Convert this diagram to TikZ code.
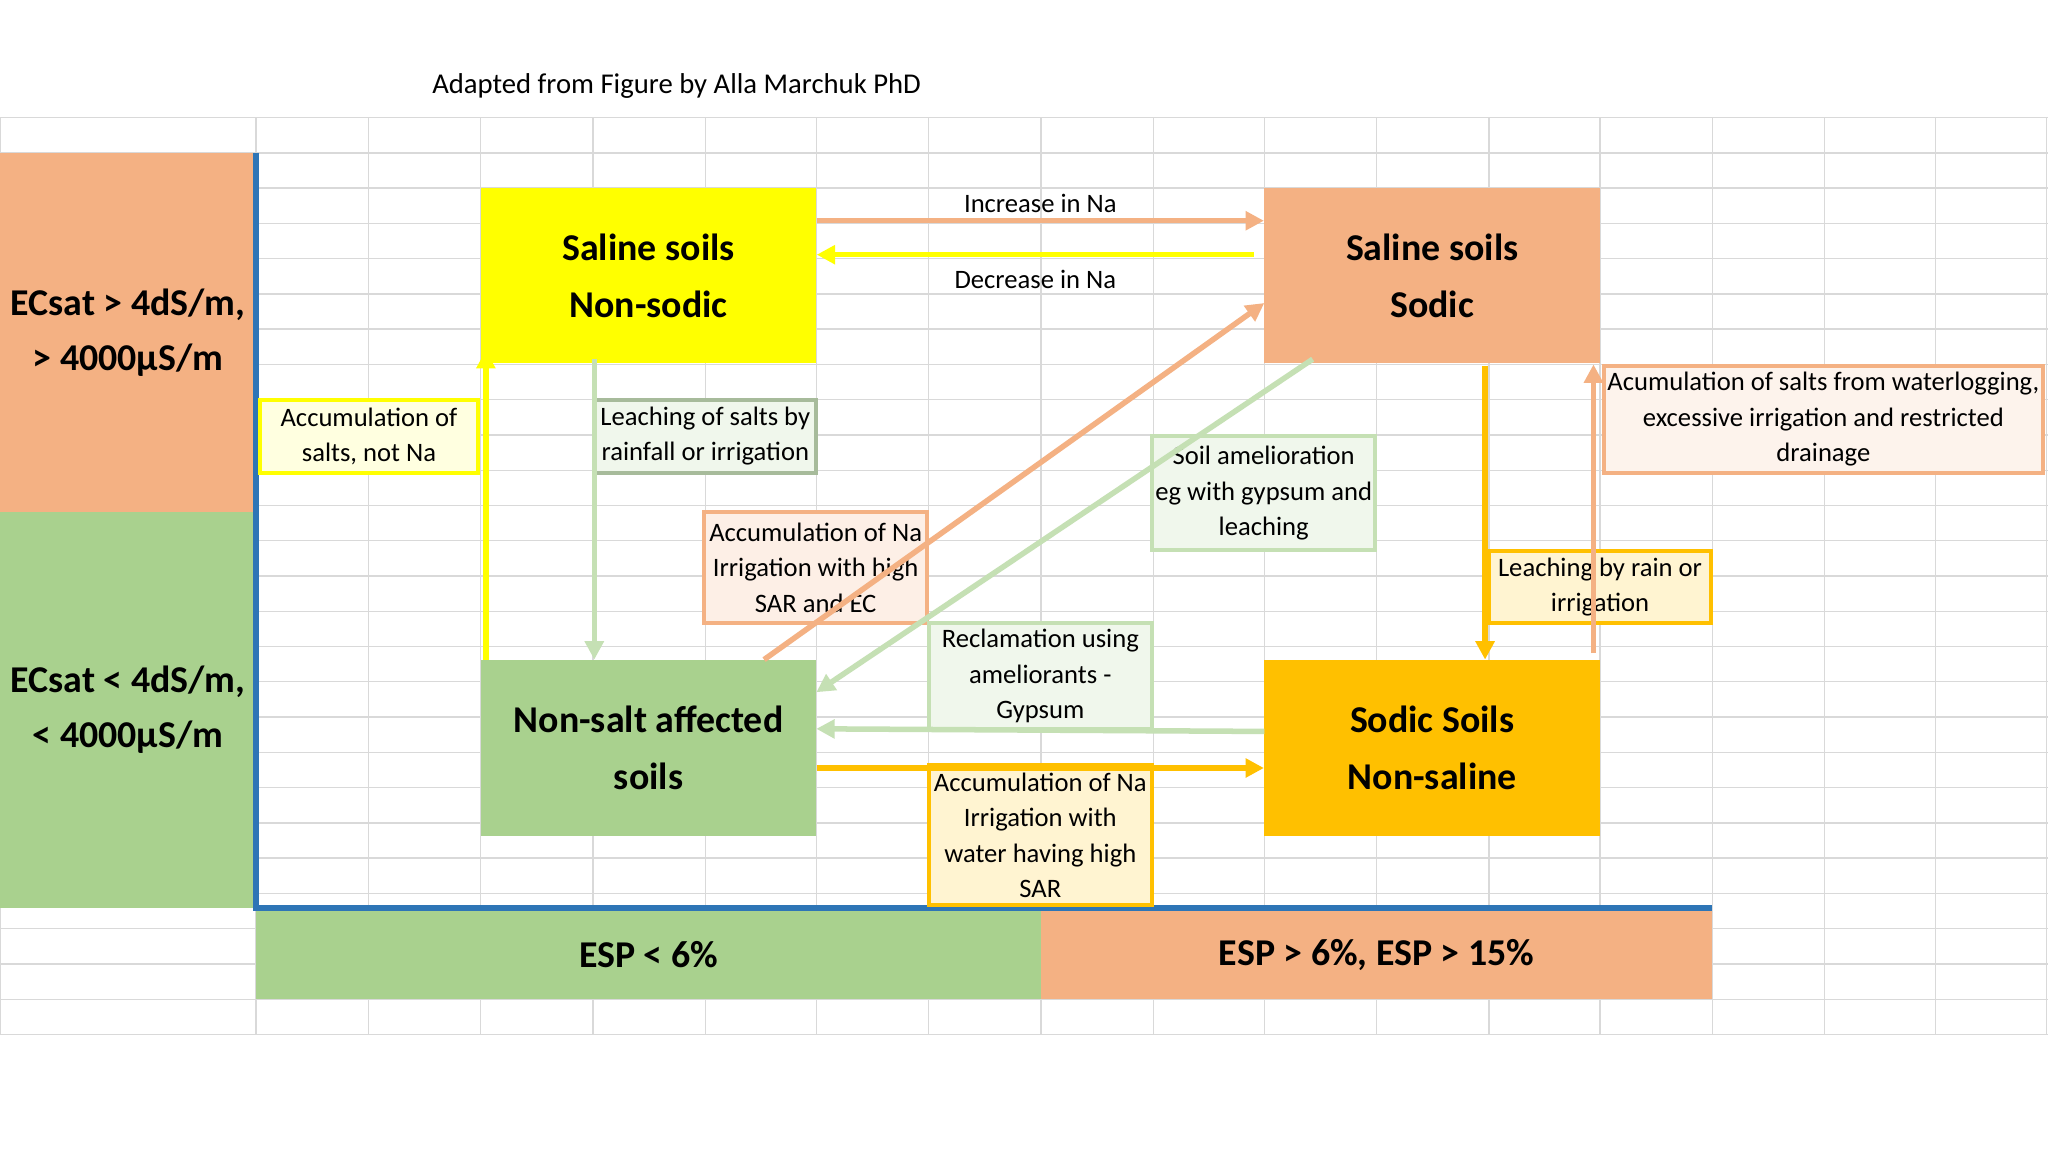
\documentclass[tikz,border=0pt]{standalone}
\usepackage{fontspec}
\setmainfont{Carlito}
\usetikzlibrary{arrows.meta}
\definecolor{orng}{HTML}{F4B183}
\definecolor{grn}{HTML}{A9D18E}
\definecolor{lgrn}{HTML}{C5E0B4}
\definecolor{ylw}{HTML}{FFFF00}
\definecolor{gold}{HTML}{FFC000}
\definecolor{axis}{HTML}{2E75B6}
\tikzset{
 big/.style={inner sep=0pt,font=\fontsize{16.5}{20}\selectfont\bfseries,align=center},
 lab/.style={draw,line width=1.8pt,inner sep=1pt,font=\fontsize{11.6}{15.5}\selectfont,align=center},
 arr/.style={line width=2.4pt,-{Triangle[length=8pt,width=8pt]}},
 small/.style={black,font=\fontsize{11.6}{14}\selectfont},
}
\begin{document}
\begin{tikzpicture}[x=0.02cm,y=-0.02cm]
\useasboundingbox (0,0) rectangle (1568,882);
\fill[white] (0,0) rectangle (1568,882);
% grid
\foreach \x in {0,196,282,368,454,540,625,711,797,883,968,1054,1140,1225,1311,1397,1482,1567}
  \draw[black!15,line width=0.6pt] (\x,90) -- (\x,792);
\foreach \i in {0,...,26}
  \draw[black!15,line width=0.6pt] (0,90+\i*27) -- (1568,90+\i*27);
\node[font=\fontsize{12.5}{15}\selectfont] (title) at (518,66) {Adapted from Figure by Alla Marchuk PhD};
% side and bottom bands
\node[big,fill=orng,minimum width=3.92cm,minimum height=5.5cm] (ectop) at (98,254.5) {ECsat > 4dS/m,\\[4pt] > 4000µS/m};
\node[big,fill=grn,minimum width=3.92cm,minimum height=6.06cm] (ecbot) at (98,543.5) {ECsat < 4dS/m,\\[4pt] < 4000µS/m};
\node[big,fill=grn,minimum width=12.02cm,minimum height=1.36cm] (espl) at (496.5,731) {ESP < 6\%};
\node[big,fill=orng,minimum width=10.28cm,minimum height=1.36cm] (espr) at (1054,731) {ESP > 6\%, ESP > 15\%};
\coordinate (ax0) at (196,117); \coordinate (ax1) at (196,695); \coordinate (ax2) at (1311,695);
\draw[axis,line width=2.4pt] (ax0) -- (ax1) -- (ax2);
% main boxes
\node[big,fill=ylw,minimum width=5.14cm,minimum height=2.68cm] (sns) at (496.5,211) {Saline soils\\[5pt] Non-sodic};
\node[big,fill=orng,minimum width=5.14cm,minimum height=2.68cm] (ss) at (1096.5,211) {Saline soils\\[5pt] Sodic};
\node[big,fill=grn,minimum width=5.14cm,minimum height=2.7cm] (nsa) at (496.5,572.5) {Non-salt affected\\[5pt] soils};
\node[big,fill=gold,minimum width=5.14cm,minimum height=2.7cm] (sodic) at (1096.5,572.5) {Sodic Soils\\[5pt] Non-saline};
% labels
\node[lab,draw=ylw,fill=ylw!12,minimum width=3.34cm,minimum height=1.12cm] (l1) at (282.5,334) {Accumulation of\\salts, not Na};
\node[lab,draw=lgrn!80!black!90,fill=lgrn!25,minimum width=3.4cm,minimum height=1.12cm] (l2) at (540,334) {Leaching of salts by\\rainfall or irrigation};
\node[lab,draw=orng,fill=orng!20,minimum width=3.42cm,minimum height=1.7cm] (l3) at (624.5,434.5) {Accumulation of Na\\Irrigation with high\\SAR and EC};
\node[lab,draw=lgrn,fill=lgrn!25,minimum width=3.42cm,minimum height=1.74cm] (l4) at (967.5,377.5) {Soil amelioration\\eg with gypsum and\\leaching};
\node[lab,draw=lgrn,fill=lgrn!25,minimum width=3.42cm,minimum height=1.62cm] (l5) at (796.5,517.5) {Reclamation using\\ameliorants -\\Gypsum};
\node[lab,draw=gold,fill=gold!18,minimum width=3.42cm,minimum height=2.14cm] (l6) at (796.5,639.5) {Accumulation of Na\\Irrigation with\\water having high\\SAR};
\node[lab,draw=gold,fill=gold!18,minimum width=3.4cm,minimum height=1.1cm] (l7) at (1225,449.5) {Leaching by rain or\\irrigation};
\node[lab,draw=orng,fill=orng!15,minimum width=6.72cm,minimum height=1.64cm] (l8) at (1396,321) {Acumulation of salts from waterlogging,\\excessive irrigation and restricted\\drainage};
% arrows
\draw[arr,orng] (sns.east |- 0,169) -- (ss.west |- 0,169) node[midway,above=-1pt,small] (inc) {Increase in Na};
\draw[arr,ylw] (960,195) coordinate (d0) -- (sns.east |- 0,195) node[midway,below=2pt,small] (dec) {Decrease in Na};
\draw[arr,ylw] (372,505) coordinate (a0) -- (372,268);
\draw[arr,lgrn] (455,275) coordinate (b0) -- (455,505);
\draw[arr,orng] (585,505) coordinate (c0) -- (968,232);
\draw[arr,lgrn] (1005,275) coordinate (e0) -- (625,530);
\draw[arr,lgrn] (968,560) coordinate (f0) -- (625,558);
\draw[arr,gold] (nsa.east |- 0,588) -- (sodic.west |- 0,588);
\draw[arr,gold] (1137,280) coordinate (g0) -- (1137,505);
\draw[arr,orng] (1220,500) coordinate (h0) -- (1220,279);
\end{tikzpicture}
\end{document}
